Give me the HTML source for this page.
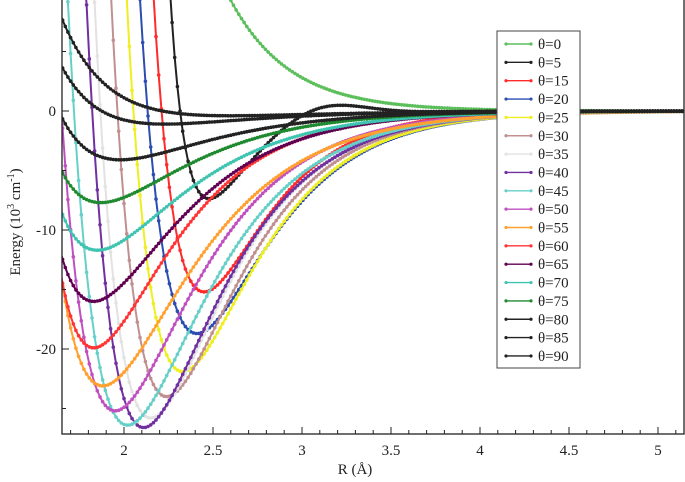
<!DOCTYPE html>
<html><head><meta charset="utf-8"><style>
body{margin:0;background:#fff;}
svg{display:block;}
svg text{font-family:"Liberation Serif","Times New Roman",serif;}
</style></head><body>
<svg id="chart" width="685" height="482">
<defs><clipPath id="clip"><rect x="62" y="0" width="622" height="434"/></clipPath></defs>
<g id="curves" clip-path="url(#clip)"></g>
<g id="axes"></g>
<g id="legend"></g>
</svg>
<script>
const labels=["θ=0","θ=5","θ=15","θ=20","θ=25","θ=30","θ=35","θ=40","θ=45","θ=50","θ=55","θ=60","θ=65","θ=70","θ=75","θ=80","θ=85","θ=90"];
const Rmin=[2.6,2.48,2.45,2.41,2.33,2.24,2.15,2.11,2.02,1.95,1.88,1.83,1.83,1.85,1.87,1.98,2.23,2.6];
const Emin=[9.3,-7.4,-15.2,-18.7,-21.9,-24.0,-25.8,-26.6,-26.4,-25.2,-23.1,-19.9,-16.0,-11.7,-7.7,-4.1,-1.1,-0.4];
const alpha=[3.0,4.2,2.9,2.5,2.5,2.5,2.45,2.4,2.3,2.3,2.1,2.4,2.2,2.1,2.1,2.0,1.95,1.8];
const bump=[0,1.3,0,0,0,0,0,0,0,0,0,0,0,0,0,0,0,0];
const colors=["#5cbf5c","#222","#ff2b2b","#2c4cb0","#eeee20","#c09090","#e2e2e2","#7030a0","#66d0c8","#c050c0","#ffa030","#ff3535","#600050","#40c4b2","#208a30","#222","#222","#222"];
const xTicks=[2,2.5,3,3.5,4,4.5,5];
const yTicks=[0,-10,-20];
const X=r=>124+(r-2)*178;
const Y=e=>111-e*11.9;
const NS="http://www.w3.org/2000/svg";
function mk(t,a,p){const e=document.createElementNS(NS,t);for(const k in a)e.setAttribute(k,a[k]);p.appendChild(e);return e;}
function energy(i,r){
  if(i===0) return Emin[0]*Math.exp(-alpha[0]*(r-Rmin[0]));
  const q=Math.exp(-alpha[i]*(r-Rmin[i]));
  let e=-Emin[i]*((1-q)*(1-q))+Emin[i];
  if(bump[i]) e+=bump[i]*Math.exp(-Math.pow((r-3.1)/0.32,2));
  return e;
}
const cg=document.getElementById('curves');
for(let i=0;i<labels.length;i++){
  const g=mk('g',{},cg);
  
  
  let d='';const pts=[];
  for(let r=1.64;r<=5.2;r+=0.015){
    let e=energy(i,r); if(e>12)e=12; if(e<-30)e=-30;
    pts.push([X(r),Y(e)]);
  }
  pts.forEach((p,k)=>{d+=(k?'L':'M')+p[0].toFixed(1)+' '+p[1].toFixed(1);});
  const pa=mk('path',{d:d,fill:'none',stroke:colors[i],'stroke-width':2},g);
  
  
  pts.forEach((p,k)=>{
    mk('circle',{cx:p[0].toFixed(1),cy:p[1].toFixed(1),r:1.8,fill:colors[i]},g);
  });
}
const ax=document.getElementById('axes');
mk('rect',{x:62,y:-2,width:622,height:436,fill:'none',stroke:'#222','stroke-width':1.3},ax);
for(let r=1.7;r<=5.15;r+=0.1){
  const major=Math.abs(r*2-Math.round(r*2))<1e-6;
  mk('line',{x1:X(r),x2:X(r),y1:434,y2:major?427:430,stroke:'#222','stroke-width':1},ax);
}
xTicks.forEach(v=>{
  const t=mk('text',{x:X(v),y:455,'font-size':15,'text-anchor':'middle',fill:'#222'},ax);
  t.textContent=String(v);
  
  
});
for(let e=5;e>=-25;e-=5){
  const major=e%10===0;
  mk('line',{x1:62,x2:major?69:66,y1:Y(e),y2:Y(e),stroke:'#222','stroke-width':1},ax);
}
yTicks.forEach(v=>{
  const t=mk('text',{x:56,y:Y(v)+5,'font-size':15,'text-anchor':'end',fill:'#222'},ax);
  t.textContent=String(v);
  
  
});
const xt=mk('text',{x:355,y:474,'font-size':15,'text-anchor':'middle',fill:'#222'},ax);
xt.textContent='R (Å)';


const yt=mk('text',{x:0,y:0,'font-size':15,'text-anchor':'middle',fill:'#222',transform:'translate(20,222) rotate(-90)'},ax);
yt.innerHTML='Energy (10<tspan dy="-6" font-size="10">3</tspan><tspan dy="6"> cm</tspan><tspan dy="-6" font-size="10">-1</tspan><tspan dy="6">)</tspan>';


const lg=document.getElementById('legend');
mk('rect',{x:497,y:31,width:83,height:337,fill:'#fff',stroke:'#444','stroke-width':1},lg);
labels.forEach((l,i)=>{
  const y=44+i*18.35;
  const g=mk('g',{},lg);
  
  
  mk('line',{x1:506,x2:531,y1:y,y2:y,stroke:colors[i],'stroke-width':1.4},g);
  mk('circle',{cx:506,cy:y,r:1.6,fill:colors[i]},g);
  mk('circle',{cx:531,cy:y,r:1.6,fill:colors[i]},g);
  const t=mk('text',{x:538,y:y+5,'font-size':15,fill:'#222'},g);
  t.textContent=l;
});
</script>
</body></html>
